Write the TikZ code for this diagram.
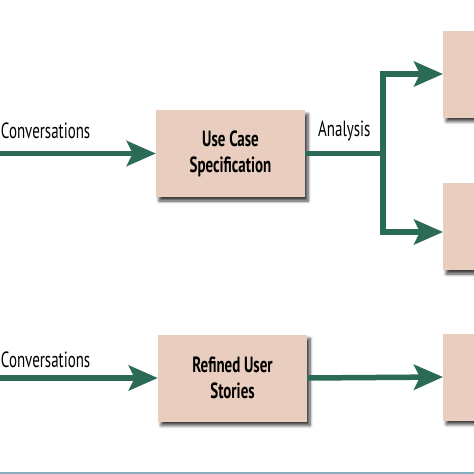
\documentclass[tikz,border=0pt]{standalone}
\usepackage{fontspec}
\setmainfont{PT Sans}[FakeStretch=0.68]
\usetikzlibrary{arrows.meta,shadows.blur,positioning}
\definecolor{arrgreen}{HTML}{2A6A57}
\definecolor{boxfill}{HTML}{E9CEC0}
\definecolor{lineblue}{HTML}{86AFBE}
\tikzset{
  procbox/.style={draw=none, fill=boxfill, minimum width=149pt, minimum height=87pt,
    align=center, font=\fontsize{22}{26}\selectfont\bfseries,
    blur shadow={shadow xshift=3pt, shadow yshift=-4pt, shadow opacity=75, shadow blur steps=6, shadow blur radius=3pt}},
  sidebox/.style={procbox, minimum width=160pt, anchor=west},
  flow/.style={draw=arrgreen, line width=5.5pt, -{Stealth[length=29pt, width=25pt, inset=6pt]}},
  flowline/.style={draw=arrgreen, line width=5.5pt},
  lbl/.style={font=\fontsize{22}{26}\selectfont, inner sep=0pt}
}
\begin{document}
\begin{tikzpicture}[x=1pt,y=-1pt]
\useasboundingbox (0,0) rectangle (474,474);
\clip (0,0) rectangle (474,474);
% boxes
\node[procbox] (ucs) at (230.5,153.5) {Use Case\\Specification};
\node[procbox] (rus) at (232.5,378) {Refined User\\Stories};
\node[sidebox] (rt) at (443,74) {};
\node[sidebox] (rm) at (443,226.5) {};
\node[sidebox] (rb) at (443,377) {};
% free ends
\coordinate (in1) at (-5,153.5);
\coordinate (in2) at (-5,378);
\coordinate (split) at (383,153.5);
% labels
\node[lbl, anchor=west] (c1) at (0.8,131) {Conversations};
\node[lbl, anchor=west] (an) at (318,131) {Analysis};
\node[lbl, anchor=west] (c2) at (0.8,360) {Conversations};
% connectors
\draw[flow] (in1) -- (ucs.west);
\draw[flow] (in2) -- (rus.west);
\draw[flowline] (ucs.east) -- (split);
\draw[flow] (split) |- (rt.west);
\draw[flow] (split) |- ([yshift=-5.5pt]rm.west);
\draw[flow] (rus.east) -- (rb.west);
% bottom rule
\fill[lineblue] (0,471.5) rectangle (474,475);
\end{tikzpicture}
\end{document}
